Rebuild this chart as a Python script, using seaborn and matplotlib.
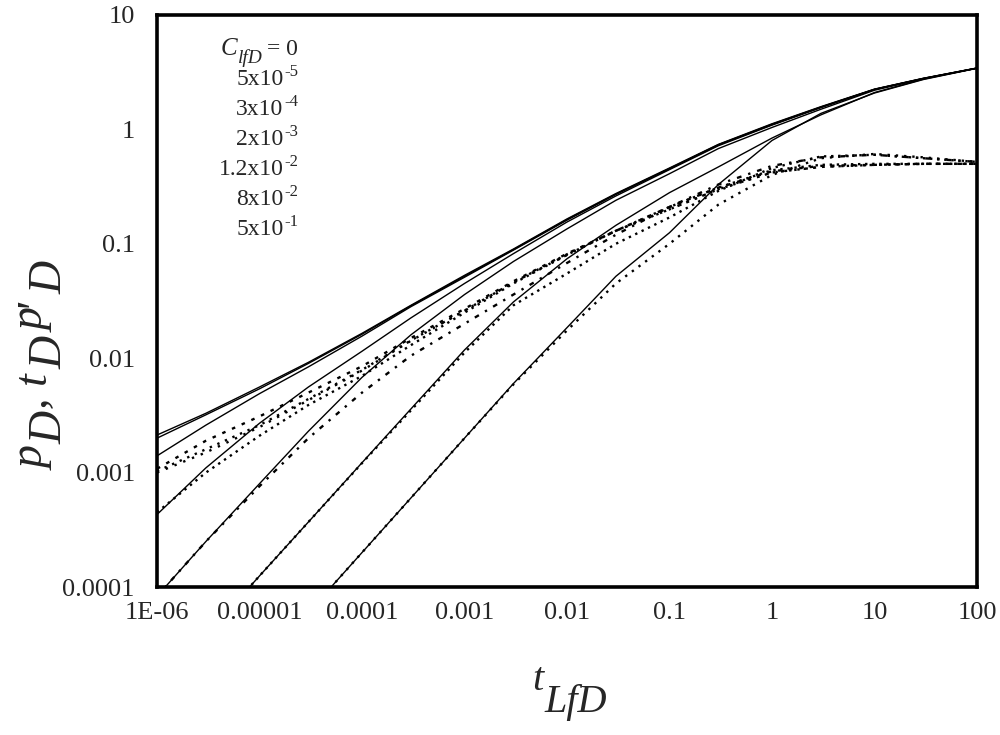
import matplotlib
matplotlib.use("Agg")
import matplotlib.pyplot as plt
import seaborn as sns
import pandas as pd
from matplotlib.ticker import FixedLocator, FixedFormatter, LogLocator, NullFormatter

# dimensionless time (read at fixed points off the chart)
t_lfd = [1e-6, 3e-6, 1e-5, 3e-5, 1e-4, 3e-4, 1e-3, 3e-3, 1e-2, 3e-2,
         0.1, 0.3, 1, 3, 10, 30, 100]

c_names = ['0', '5x10-5', '3x10-4', '2x10-3', '1.2x10-2', '8x10-2', '5x10-1']

# pressure p_D for every C_lfD
p_c0 = [0.00213, 0.0033, 0.0056, 0.0092, 0.0165, 0.029, 0.053, 0.090, 0.165, 0.275,
        0.46, 0.74, 1.12, 1.58, 2.25, 2.80, 3.44]
p_c1 = [0.00200, 0.0032, 0.0054, 0.0090, 0.0162, 0.0287, 0.052, 0.089, 0.163, 0.272,
        0.455, 0.735, 1.11, 1.57, 2.24, 2.79, 3.44]
p_c2 = [0.00140, 0.0026, 0.0049, 0.0084, 0.0156, 0.0282, 0.051, 0.088, 0.161, 0.270,
        0.452, 0.73, 1.10, 1.56, 2.24, 2.79, 3.43]
p_c3 = [0.00043, 0.0011, 0.0027, 0.0056, 0.0115, 0.0225, 0.045, 0.082, 0.155, 0.262,
        0.445, 0.72, 1.09, 1.55, 2.23, 2.78, 3.43]
p_c4 = [0.000083, 0.00025, 0.00080, 0.0023, 0.0068, 0.0160, 0.036, 0.070, 0.135, 0.240,
        0.41, 0.68, 1.04, 1.50, 2.20, 2.77, 3.43]
p_c5 = [0.0000125, 0.0000375, 0.000125, 0.00037, 0.00122, 0.0036, 0.0118, 0.031, 0.074, 0.145,
        0.28, 0.47, 0.84, 1.34, 2.10, 2.75, 3.43]
p_c6 = [0.000002, 0.000006, 0.00002, 0.00006, 0.0002, 0.0006, 0.0020, 0.0060, 0.0185, 0.052,
        0.125, 0.33, 0.80, 1.38, 2.08, 2.73, 3.42]

# derivative t_D p'_D
d_c0 = [0.00100, 0.0015, 0.0025, 0.0043, 0.0078, 0.0142, 0.026, 0.046, 0.080, 0.13,
        0.20, 0.30, 0.42, 0.47, 0.49, 0.50, 0.50]
d_c1 = [0.00103, 0.0016, 0.0026, 0.0044, 0.0079, 0.0143, 0.026, 0.046, 0.081, 0.13,
        0.20, 0.30, 0.42, 0.47, 0.49, 0.50, 0.50]
d_c2 = [0.00108, 0.0019, 0.0031, 0.0050, 0.0085, 0.0150, 0.027, 0.047, 0.082, 0.13,
        0.21, 0.31, 0.43, 0.48, 0.49, 0.50, 0.50]
d_c3 = [0.00045, 0.0010, 0.0021, 0.0039, 0.0070, 0.0130, 0.025, 0.045, 0.080, 0.13,
        0.21, 0.31, 0.44, 0.49, 0.50, 0.50, 0.50]
d_c4 = [0.000083, 0.00025, 0.00076, 0.0020, 0.0050, 0.0105, 0.020, 0.036, 0.068, 0.12,
        0.21, 0.33, 0.48, 0.57, 0.60, 0.56, 0.52]
d_c5 = [0.0000125, 0.0000375, 0.000125, 0.00037, 0.00121, 0.0035, 0.0112, 0.029, 0.055, 0.10,
        0.17, 0.29, 0.46, 0.58, 0.60, 0.56, 0.52]
d_c6 = [0.000002, 0.000006, 0.00002, 0.00006, 0.0002, 0.0006, 0.0020, 0.0059, 0.0175, 0.045,
        0.10, 0.22, 0.40, 0.56, 0.61, 0.57, 0.52]

x_ticks = [1e-6, 1e-5, 1e-4, 1e-3, 1e-2, 0.1, 1, 10, 100]
x_ticklabels = ['1E-06', '0.00001', '0.0001', '0.001', '0.01', '0.1', '1', '10', '100']
y_ticks = [1e-4, 1e-3, 1e-2, 0.1, 1, 10]
y_ticklabels = ['0.0001', '0.001', '0.01', '0.1', '1', '10']

# legend column: mantissa and exponent
leg_base = ['5x10', '3x10', '2x10', '1.2x10', '8x10', '5x10']
leg_exp = ['-5', '-4', '-3', '-2', '-2', '-1']

# long table for seaborn
pressures = [p_c0, p_c1, p_c2, p_c3, p_c4, p_c5, p_c6]
derivs = [d_c0, d_c1, d_c2, d_c3, d_c4, d_c5, d_c6]
rows = []
for name, pv, dv in zip(c_names, pressures, derivs):
    for t, p, d in zip(t_lfd, pv, dv):
        rows.append({'t': t, 'C': name, 'kind': 'p', 'val': p})
        rows.append({'t': t, 'C': name, 'kind': 'dp', 'val': d})
df = pd.DataFrame(rows)

sns.set_theme(style='white')
plt.rcParams['font.family'] = ['Liberation Serif', 'DejaVu Serif']

W, H = 1000, 735
fig = plt.figure(figsize=(10, 7.35), dpi=100)
ax = fig.add_axes([0.157, 1 - 587 / H, 0.82, 572 / H])
ax.set_xscale('log')
ax.set_yscale('log')

dot_styles = [(0, (1, 3)), (0, (1, 2.5)), (0, (1.5, 3)), (0, (1, 2)),
              (0, (2, 3, 1, 3)), (0, (1, 2)), (0, (1, 2.5))]
for i, name in enumerate(c_names):
    sub = df[(df.C == name) & (df.kind == 'p')]
    sns.lineplot(data=sub, x='t', y='val', ax=ax, color='black', lw=1.0,
                 estimator=None, sort=True)
    sub = df[(df.C == name) & (df.kind == 'dp')]
    sns.lineplot(data=sub, x='t', y='val', ax=ax, color='black', lw=1.7,
                 linestyle=dot_styles[i], estimator=None, sort=True)

ax.set_xlim(1e-6, 100)
ax.set_ylim(1e-4, 10)
ax.set_xlabel('')
ax.set_ylabel('')

ax.xaxis.set_major_locator(FixedLocator(x_ticks))
ax.xaxis.set_major_formatter(FixedFormatter(x_ticklabels))
ax.yaxis.set_major_locator(FixedLocator(y_ticks))
ax.yaxis.set_major_formatter(FixedFormatter(y_ticklabels))
for axis in (ax.xaxis, ax.yaxis):
    axis.set_minor_locator(LogLocator(base=10, subs=range(2, 10), numticks=20))
    axis.set_minor_formatter(NullFormatter())

ax.tick_params(which='both', direction='in', top=False, right=False, color='black')
ax.tick_params(which='major', length=7, width=1.6)
ax.tick_params(which='minor', length=5, width=1.4)
ax.tick_params(axis='x', which='major', labelsize=19, pad=11)
ax.tick_params(axis='y', which='major', labelsize=19, pad=16)
for s in ax.spines.values():
    s.set_linewidth(2.6)
    s.set_color('black')

renderer = fig.canvas.get_renderer()


def draw_pieces(pieces, x0, y0, rotation=0, align='left', gap=1.5):
    # pieces: (text, fontsize, baseline drop in px, style, extra space after)
    texts, widths = [], []
    for txt, size, drop, style, extra in pieces:
        tt = fig.text(0, 0, txt, fontsize=size, style=style,
                      ha='left', va='baseline', rotation_mode='anchor')
        texts.append(tt)
        widths.append(tt.get_window_extent(renderer).width + extra)
    total = sum(widths) + gap * (len(widths) - 1)
    start = {'left': 0, 'center': -total / 2, 'right': -total}[align]
    pos = start
    for tt, w, piece in zip(texts, widths, pieces):
        drop = piece[2]
        if rotation == 0:
            x, y = x0 + pos, y0 + drop
        else:
            x, y = x0 + drop, y0 - pos
        tt.set_position((x / W, 1 - y / H))
        tt.set_rotation(rotation)
        pos += w + gap


# x axis title  t_LfD
draw_pieces([('t', 29, 0, 'italic', 0), ('LfD', 29, 22, 'italic', 0)],
            570, 690, align='center', gap=1)
# y axis title  p_D, t_D p'_D
draw_pieces([('p', 33, 0, 'italic', 0), ('D', 33, 17, 'italic', 0),
             (',', 33, 0, 'italic', 9), ('t', 33, 0, 'italic', 0),
             ('D', 33, 17, 'italic', 0), ('p', 33, 0, 'italic', 0),
             ("'", 33, 0, 'italic', 0), ('D', 33, 17, 'italic', 0)],
            45, 470, rotation=90, gap=3)

# C_lfD list in the top left
draw_pieces([('C', 18, 0, 'italic', 0), ('lfD', 14, 8, 'italic', 3),
             ('= 0', 17, 0, 'normal', 0)], 298, 55, align='right', gap=1)
for k in range(len(leg_base)):
    draw_pieces([(leg_base[k], 17, 0, 'normal', 0), (leg_exp[k], 12, -9, 'normal', 0)],
                298, 85 + 30 * k, align='right', gap=0.5)

fig.savefig('out.png', dpi=100)
